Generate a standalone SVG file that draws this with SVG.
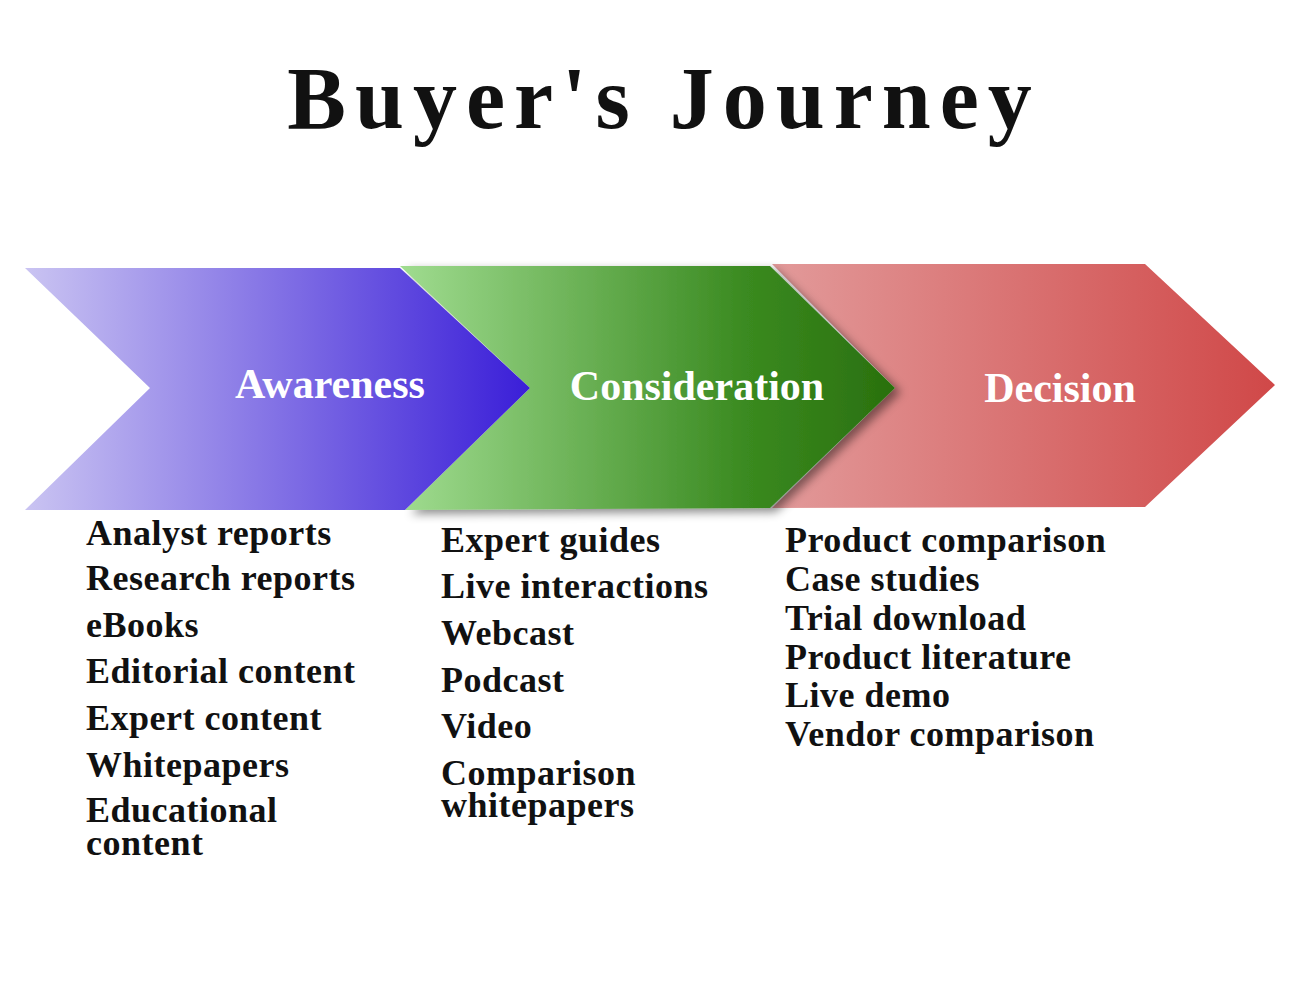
<svg xmlns="http://www.w3.org/2000/svg" width="1300" height="1006" viewBox="0 0 1300 1006">
<style>
.t{font-family:"Liberation Serif",serif;fill:#111;font-size:36px;font-weight:bold;letter-spacing:0.5px}
.h{font-family:"Liberation Serif",serif;fill:#fff;font-size:42px;font-weight:bold}
</style>
<defs>
<linearGradient id="gA" x1="0" x2="1"><stop offset="0" stop-color="#cac4f2"/><stop offset="1" stop-color="#3a1ed8"/></linearGradient>
<linearGradient id="gC" x1="0" x2="1"><stop offset="0" stop-color="#a0dc90"/><stop offset="0.7" stop-color="#3a8a20"/><stop offset="1" stop-color="#2a700e"/></linearGradient>
<linearGradient id="gD" x1="0" x2="1"><stop offset="0" stop-color="#e29a9a"/><stop offset="1" stop-color="#d04848"/></linearGradient>
<filter id="sh" x="-10%" y="-10%" width="130%" height="130%"><feDropShadow dx="6" dy="4" stdDeviation="5" flood-opacity="0.45"/></filter>
</defs>
<rect width="1300" height="1006" fill="#fff"/>
<text x="664" y="128" text-anchor="middle" font-family="Liberation Serif,serif" font-size="88" font-weight="bold" letter-spacing="9" fill="#111">Buyer's Journey</text>
<g id="decision"><polygon points="772,264 1145,264 1275,385 1145,507 772,508 895,388" fill="url(#gD)"/><text class="h" x="1060" y="402" text-anchor="middle">Decision</text></g>
<g id="consideration"><polygon points="400,266 770,266 895,388 770,508 405,510 530,388" fill="url(#gC)" filter="url(#sh)"/><text class="h" x="697" y="400" text-anchor="middle">Consideration</text></g>
<g id="awareness"><polygon points="25,268 400,268 530,388 405,510 25,510 150,388" fill="url(#gA)"/><text class="h" x="330" y="398" text-anchor="middle">Awareness</text></g>
<g id="list-awareness">
<text class="t" x="86" y="545">Analyst reports</text>
<text class="t" x="86" y="590">Research reports</text>
<text class="t" x="86" y="637">eBooks</text>
<text class="t" x="86" y="683">Editorial content</text>
<text class="t" x="86" y="730">Expert content</text>
<text class="t" x="86" y="777">Whitepapers</text>
<text class="t" x="86" y="822">Educational</text>
<text class="t" x="86" y="855">content</text>
</g>
<g id="list-consideration">
<text class="t" x="441" y="552">Expert guides</text>
<text class="t" x="441" y="598">Live interactions</text>
<text class="t" x="441" y="645">Webcast</text>
<text class="t" x="441" y="692">Podcast</text>
<text class="t" x="441" y="738">Video</text>
<text class="t" x="441" y="785">Comparison</text>
<text class="t" x="441" y="817">whitepapers</text>
</g>
<g id="list-decision">
<text class="t" x="785" y="552">Product comparison</text>
<text class="t" x="785" y="591">Case studies</text>
<text class="t" x="785" y="630">Trial download</text>
<text class="t" x="785" y="669">Product literature</text>
<text class="t" x="785" y="707">Live demo</text>
<text class="t" x="785" y="746">Vendor comparison</text>
</g>
<g id="connectors"/>
</svg>
